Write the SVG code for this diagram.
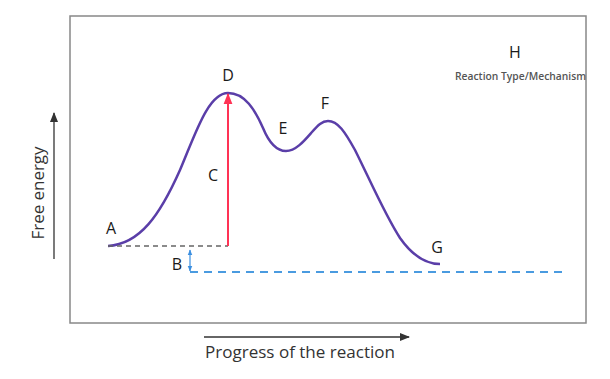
<svg xmlns="http://www.w3.org/2000/svg" width="610" height="379" viewBox="0 0 610 379">
<style>
.lbl{font-family:"Open Sans","Noto Sans",sans-serif;font-size:16px;fill:#1a1a1a;text-anchor:middle;font-weight:500}
.axis{font-family:"Open Sans","Noto Sans",sans-serif;font-size:16px;fill:#333;text-anchor:middle}
</style>
<defs>
<marker id="ah" viewBox="0 0 10 10" refX="9" refY="5" markerWidth="10" markerHeight="10" markerUnits="userSpaceOnUse" orient="auto"><path d="M0,1 L10,5 L0,9 z" fill="#333"/></marker>
<marker id="ahr" viewBox="0 0 10 10" refX="9" refY="5" markerWidth="11" markerHeight="11" markerUnits="userSpaceOnUse" orient="auto"><path d="M0,1 L10,5 L0,9 z" fill="#ff3355"/></marker>
<marker id="ahb" viewBox="0 0 10 10" refX="9" refY="5" markerWidth="6" markerHeight="6" markerUnits="userSpaceOnUse" orient="auto-start-reverse"><path d="M0,1 L10,5 L0,9 z" fill="#3b8fe0"/></marker>
</defs>
<rect x="0" y="0" width="610" height="379" fill="#fff"/>
<rect id="frame" x="70" y="16" width="516" height="307" fill="none" stroke="#888" stroke-width="1.5"/>
<g id="axes">
<line x1="54" y1="259" x2="54" y2="113" stroke="#333" stroke-width="1.3" marker-end="url(#ah)"/>
<text class="axis" transform="translate(44,193) rotate(-90)" textLength="93" lengthAdjust="spacingAndGlyphs">Free energy</text>
<line x1="204" y1="337" x2="409" y2="337" stroke="#333" stroke-width="1.3" marker-end="url(#ah)"/>
<text class="axis" x="300" y="358" textLength="190" lengthAdjust="spacingAndGlyphs">Progress of the reaction</text>
</g>
<g id="connectors">
<path id="curve" d="M108,246 C140,244 160,215 180,170 C195,135 208,93 228,93 C245,93 255,110 263,128 C270,145 278,151 286,151 C296,151 305,140 312,132 C318,125 322,121 328,121 C338,121 345,132 355,150 C370,180 385,215 400,238 C412,255 425,264 440,264" fill="none" stroke="#5a3ea8" stroke-width="2.5"/>
<line x1="108" y1="246" x2="228" y2="246" stroke="#666" stroke-width="1.5" stroke-dasharray="5,4"/>
<line x1="228" y1="246" x2="228" y2="94" stroke="#ff3355" stroke-width="2" marker-end="url(#ahr)"/>
<line x1="190" y1="272" x2="567" y2="272" stroke="#4a9be0" stroke-width="1.8" stroke-dasharray="8,6"/>
<line x1="190" y1="250" x2="190" y2="271" stroke="#3b8fe0" stroke-width="1.2" marker-start="url(#ahb)" marker-end="url(#ahb)"/>
</g>
<g id="A"><text class="lbl" x="111" y="234">A</text></g>
<g id="B"><text class="lbl" x="177" y="270">B</text></g>
<g id="C"><text class="lbl" x="213" y="181">C</text></g>
<g id="D"><text class="lbl" x="228" y="81">D</text></g>
<g id="E"><text class="lbl" x="283" y="134">E</text></g>
<g id="F"><text class="lbl" x="325" y="109">F</text></g>
<g id="G"><text class="lbl" x="437" y="253">G</text></g>
<g id="H"><text class="lbl" x="515" y="58">H</text>
<text x="455" y="80" textLength="131" lengthAdjust="spacingAndGlyphs" style="font-family:'Open Sans','Noto Sans',sans-serif;font-size:10.5px;font-weight:600;fill:#555">Reaction Type/Mechanism</text></g>
</svg>
